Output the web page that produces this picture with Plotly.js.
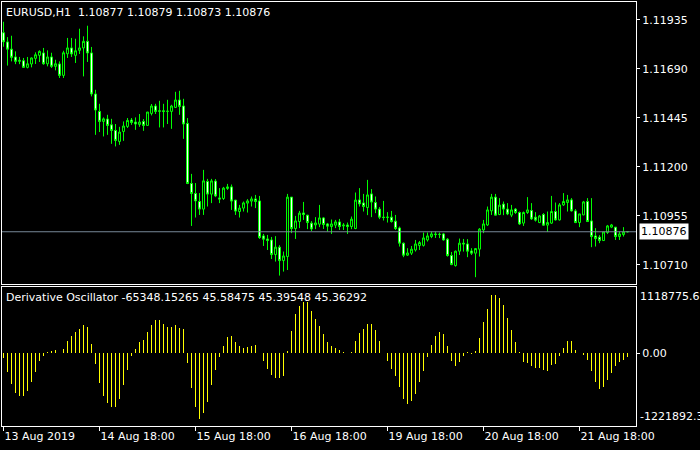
<!DOCTYPE html>
<html><head><meta charset="utf-8">
<script src="https://cdn.plot.ly/plotly-3.0.1.min.js"></script>
<style>html,body{margin:0;padding:0;background:#000;}#chart{width:700px;height:450px;}</style>
</head><body><div id="chart"></div>
<script>
const symbol = "EURUSD,H1";
const openP = [1.11870,1.11824,1.11788,1.11749,1.11727,1.11730,1.11697,1.11714,1.11742,1.11757,1.11769,1.11715,1.11749,1.11702,1.11714,1.11657,1.11765,1.11794,1.11757,1.11782,1.11794,1.11827,1.11769,1.11564,1.11477,1.11427,1.11439,1.11410,1.11382,1.11327,1.11377,1.11402,1.11434,1.11424,1.11412,1.11427,1.11407,1.11467,1.11504,1.11477,1.11480,1.11477,1.11477,1.11497,1.11534,1.11504,1.11417,1.11117,1.11067,1.11027,1.10989,1.11127,1.11064,1.11129,1.11045,1.11042,1.11092,1.11100,1.11034,1.10977,1.10994,1.11019,1.11029,1.11040,1.11030,1.10855,1.10840,1.10835,1.10762,1.10799,1.10732,1.10752,1.11049,1.10892,1.10927,1.10970,1.10959,1.10919,1.10910,1.10914,1.10945,1.10915,1.10902,1.10909,1.10925,1.10905,1.10910,1.10902,1.10892,1.11035,1.11020,1.10997,1.11065,1.11022,1.10989,1.10949,1.10947,1.10949,1.10929,1.10895,1.10819,1.10759,1.10769,1.10785,1.10807,1.10808,1.10835,1.10852,1.10865,1.10862,1.10865,1.10839,1.10757,1.10707,1.10779,1.10819,1.10815,1.10780,1.10769,1.10789,1.10885,1.10910,1.10980,1.11049,1.10962,1.11014,1.10989,1.10959,1.10989,1.10972,1.10919,1.10972,1.10982,1.10949,1.10922,1.10962,1.10909,1.10919,1.10977,1.10935,1.11010,1.11022,1.11035,1.10980,1.10922,1.10960,1.11027,1.10930,1.10855,1.10849,1.10832,1.10872,1.10899,1.10899,1.10852,1.10862,1.10877];
const highP = [1.11925,1.11848,1.11855,1.11777,1.11749,1.11744,1.11749,1.11747,1.11772,1.11782,1.11794,1.11782,1.11770,1.11735,1.11727,1.11780,1.11844,1.11844,1.11840,1.11890,1.11852,1.11905,1.11799,1.11585,1.11515,1.11447,1.11460,1.11440,1.11414,1.11400,1.11427,1.11444,1.11444,1.11447,1.11464,1.11439,1.11474,1.11514,1.11515,1.11530,1.11515,1.11535,1.11510,1.11575,1.11580,1.11540,1.11444,1.11165,1.11119,1.11069,1.11185,1.11140,1.11140,1.11139,1.11094,1.11100,1.11115,1.11112,1.11035,1.11010,1.11027,1.11039,1.11052,1.11060,1.11055,1.10865,1.10860,1.10850,1.10854,1.10809,1.10777,1.11065,1.11049,1.10955,1.10980,1.11025,1.10960,1.10929,1.10949,1.11010,1.10949,1.10920,1.10937,1.10935,1.10940,1.10919,1.10922,1.10952,1.11072,1.11094,1.11065,1.11135,1.11089,1.11052,1.10999,1.11030,1.10974,1.10980,1.10960,1.10902,1.10822,1.10794,1.10805,1.10835,1.10830,1.10872,1.10872,1.10877,1.10877,1.10872,1.10869,1.10844,1.10775,1.10782,1.10842,1.10840,1.10839,1.10794,1.10792,1.10894,1.10935,1.11002,1.11065,1.11065,1.11044,1.11027,1.11019,1.11010,1.10994,1.10977,1.10977,1.11049,1.11019,1.10974,1.10960,1.10969,1.10977,1.11055,1.11022,1.11019,1.11069,1.11060,1.11044,1.10989,1.10965,1.11030,1.11044,1.11044,1.10894,1.10859,1.10875,1.10910,1.10915,1.10899,1.10877,1.10899,1.10879];
const lowP = [1.11800,1.11706,1.11727,1.11713,1.11713,1.11694,1.11692,1.11697,1.11714,1.11724,1.11710,1.11702,1.11694,1.11682,1.11644,1.11644,1.11744,1.11749,1.11719,1.11764,1.11652,1.11724,1.11552,1.11360,1.11374,1.11352,1.11360,1.11315,1.11302,1.11310,1.11330,1.11394,1.11410,1.11385,1.11400,1.11380,1.11407,1.11457,1.11464,1.11397,1.11397,1.11414,1.11390,1.11494,1.11460,1.11340,1.11114,1.10905,1.10947,1.10960,1.10960,1.11002,1.11019,1.11049,1.11019,1.11035,1.11085,1.10985,1.10960,1.10947,1.10977,1.10972,1.11002,1.10994,1.10840,1.10805,1.10785,1.10740,1.10727,1.10657,1.10677,1.10685,1.10869,1.10840,1.10894,1.10935,1.10889,1.10880,1.10889,1.10899,1.10890,1.10877,1.10865,1.10894,1.10885,1.10885,1.10865,1.10889,1.10889,1.11002,1.10977,1.10959,1.10949,1.10969,1.10939,1.10932,1.10922,1.10922,1.10885,1.10802,1.10749,1.10755,1.10760,1.10777,1.10785,1.10802,1.10827,1.10844,1.10845,1.10844,1.10832,1.10752,1.10709,1.10702,1.10760,1.10777,1.10749,1.10760,1.10649,1.10752,1.10869,1.10905,1.10960,1.10959,1.10959,1.10959,1.10959,1.10949,1.10965,1.10910,1.10905,1.10965,1.10935,1.10927,1.10919,1.10905,1.10875,1.10915,1.10932,1.10932,1.11005,1.10977,1.10977,1.10919,1.10899,1.10959,1.10927,1.10799,1.10802,1.10819,1.10832,1.10865,1.10894,1.10835,1.10835,1.10852,1.10873];
const closeP = [1.11825,1.11788,1.11747,1.11727,1.11732,1.11697,1.11715,1.11744,1.11760,1.11777,1.11715,1.11749,1.11702,1.11715,1.11657,1.11770,1.11794,1.11764,1.11780,1.11794,1.11827,1.11769,1.11564,1.11484,1.11427,1.11440,1.11407,1.11382,1.11332,1.11374,1.11404,1.11432,1.11422,1.11414,1.11424,1.11407,1.11474,1.11504,1.11477,1.11480,1.11477,1.11478,1.11504,1.11534,1.11502,1.11414,1.11117,1.11067,1.11030,1.10989,1.11130,1.11064,1.11130,1.11055,1.11039,1.11094,1.11100,1.11029,1.10979,1.10994,1.11020,1.11030,1.11040,1.11027,1.10847,1.10839,1.10832,1.10762,1.10799,1.10732,1.10755,1.11049,1.10892,1.10930,1.10969,1.10962,1.10922,1.10890,1.10920,1.10945,1.10912,1.10904,1.10915,1.10925,1.10902,1.10909,1.10902,1.10939,1.11034,1.11015,1.11002,1.11060,1.11024,1.10989,1.10949,1.10947,1.10949,1.10927,1.10892,1.10819,1.10759,1.10770,1.10789,1.10815,1.10822,1.10845,1.10855,1.10865,1.10862,1.10863,1.10835,1.10757,1.10712,1.10779,1.10819,1.10815,1.10779,1.10769,1.10792,1.10889,1.10915,1.10985,1.11049,1.10959,1.11009,1.10989,1.10965,1.10985,1.10972,1.10915,1.10972,1.10985,1.10940,1.10934,1.10955,1.10909,1.10922,1.10977,1.10935,1.11010,1.11027,1.11035,1.10980,1.10922,1.10965,1.11025,1.10927,1.10852,1.10842,1.10832,1.10875,1.10905,1.10910,1.10852,1.10865,1.10875,1.10876];
const oscValues = [-73000,-311000,-510000,-663000,-719000,-719000,-634000,-481000,-311000,-124000,-46000,29000,46000,63000,3000,73000,216000,294000,362000,413000,481000,437000,158000,-182000,-498000,-709000,-838000,-896000,-906000,-770000,-539000,-272000,-46000,68000,187000,226000,357000,481000,556000,556000,498000,442000,442000,471000,425000,408000,-158000,-583000,-906000,-1105000,-1008000,-821000,-539000,-272000,-56000,124000,284000,301000,199000,124000,90000,102000,131000,148000,12000,-131000,-255000,-369000,-408000,-413000,-386000,46000,379000,668000,804000,872000,862000,719000,583000,454000,328000,199000,124000,85000,51000,29000,2000,22000,209000,352000,420000,498000,498000,396000,209000,12000,-124000,-260000,-386000,-566000,-765000,-850000,-804000,-680000,-481000,-294000,-56000,141000,294000,357000,323000,124000,-131000,-216000,-148000,-46000,17000,-2000,46000,255000,522000,753000,991000,991000,935000,821000,595000,396000,199000,17000,-148000,-158000,-204000,-243000,-243000,-284000,-294000,-199000,-170000,-46000,85000,209000,209000,56000,12000,-22000,-114000,-294000,-481000,-595000,-566000,-442000,-328000,-216000,-141000,-114000,-65348.15265];
const oscName = "Derivative Oscillator";
const oscExtra = ["45.58475","45.39548","45.36292"];
const oscMax = 1118775.6, oscMin = -1221892.3;
const priceTicks = [1.11935,1.11690,1.11445,1.11200,1.10955,1.10710];
const timeTickIdx = [0,24,48,72,96,120,144];
const timeTickLabels = ["13 Aug 2019","14 Aug 18:00","15 Aug 18:00","16 Aug 18:00","19 Aug 18:00","20 Aug 18:00","21 Aug 18:00"];

const n = closeP.length;
const idx = closeP.map((_, i) => i);
const last = n - 1;
const f5 = v => v.toFixed(5);
const FONT = "DejaVu Sans";

const candles = {
  type: 'candlestick', x: idx, open: openP, high: highP, low: lowP, close: closeP,
  xaxis: 'x', yaxis: 'y', whiskerwidth: 0, hoverinfo: 'skip',
  increasing: {line: {color: '#00ff00', width: 1}, fillcolor: '#000000'},
  decreasing: {line: {color: '#00ff00', width: 1}, fillcolor: '#ffffff'}
};
const osc = {
  type: 'bar', x: idx, y: oscValues, xaxis: 'x2', yaxis: 'y2', width: 0.25,
  marker: {color: '#ffff00', line: {width: 0}}, hoverinfo: 'skip'
};

const xr = [-0.375, 158.125];
const mainDom = [0.3349, 1], oscDom = [0, 0.3278];
const layout = {
  width: 700, height: 450, paper_bgcolor: '#000', plot_bgcolor: '#000',
  margin: {l: 2, r: 64, t: 2, b: 24}, showlegend: false, bargap: 0,
  font: {family: FONT, size: 11, color: '#ffffff'},
  xaxis: {range: xr, anchor: 'y', domain: [0, 1], showgrid: false, zeroline: false,
    showticklabels: false, ticks: '', showline: true, mirror: true, linecolor: '#ffffff', linewidth: 1,
    rangeslider: {visible: false}},
  xaxis2: {range: xr, anchor: 'y2', matches: 'x', domain: [0, 1], showgrid: false, zeroline: false,
    tickmode: 'array', tickvals: timeTickIdx, ticktext: timeTickLabels,
    ticks: 'outside', ticklen: 4, tickcolor: '#ffffff', ticklabelposition: 'outside right',
    tickfont: {family: FONT, size: 11, color: '#ffffff'},
    showline: true, mirror: true, linecolor: '#ffffff', linewidth: 1},
  yaxis: {domain: mainDom, range: [1.10615, 1.120235], side: 'right', showgrid: false, zeroline: false,
    tickmode: 'array', tickvals: priceTicks, ticktext: priceTicks.map(f5),
    ticks: 'outside', ticklen: 3, tickcolor: '#ffffff',
    tickfont: {family: FONT, size: 11, color: '#ffffff'},
    showline: true, mirror: true, linecolor: '#ffffff', linewidth: 1},
  yaxis2: {domain: oscDom, range: [oscMin, oscMax], side: 'right', showgrid: false, zeroline: false,
    tickmode: 'array', tickvals: [0], ticktext: ['0.00'],
    ticks: 'outside', ticklen: 3, tickcolor: '#ffffff',
    tickfont: {family: FONT, size: 11, color: '#ffffff'},
    showline: true, mirror: true, linecolor: '#ffffff', linewidth: 1},
  shapes: [
    {type: 'line', xref: 'paper', yref: 'y', x0: 0, x1: 1, y0: closeP[last], y1: closeP[last],
      line: {color: '#778899', width: 1}}
  ],
  annotations: [
    {xref: 'paper', yref: 'paper', x: 0, y: 1, xanchor: 'left', yanchor: 'top', xshift: 2, yshift: -2,
      showarrow: false, text: symbol + '  ' + [openP[last], highP[last], lowP[last], closeP[last]].map(f5).join(' '),
      font: {family: FONT, size: 11, color: '#ffffff'}},
    {xref: 'paper', yref: 'paper', x: 0, y: oscDom[1], xanchor: 'left', yanchor: 'top', xshift: 2, yshift: -2,
      showarrow: false, text: oscName + ' ' + oscValues[last].toFixed(5) + ' ' + oscExtra.join(' '),
      font: {family: FONT, size: 11, color: '#ffffff'}},
    {xref: 'paper', yref: 'y', x: 1, y: closeP[last], xanchor: 'left', yanchor: 'middle', xshift: 3,
      showarrow: false, text: f5(closeP[last]), bgcolor: '#ffffff', borderpad: 1,
      font: {family: FONT, size: 11, color: '#000000'}},
    {xref: 'paper', yref: 'paper', x: 1, y: oscDom[1], xanchor: 'left', yanchor: 'top', xshift: 2, yshift: -1,
      showarrow: false, text: oscMax.toFixed(1), font: {family: FONT, size: 11, color: '#ffffff'}},
    {xref: 'paper', yref: 'paper', x: 1, y: 0, xanchor: 'left', yanchor: 'bottom', xshift: 2, yshift: 1,
      showarrow: false, text: oscMin.toFixed(1), font: {family: FONT, size: 11, color: '#ffffff'}}
  ]
};
Plotly.newPlot('chart', [candles, osc], layout, {staticPlot: true, displayModeBar: false});
</script></body></html>
